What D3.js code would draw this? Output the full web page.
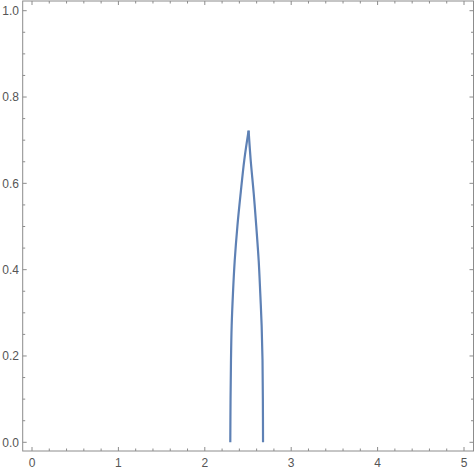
<!DOCTYPE html>
<html>
<head>
<meta charset="utf-8">
<script src="https://cdn.jsdelivr.net/npm/d3@7"></script>
<style>
  html, body { margin: 0; padding: 0; background: #fff; }
  svg { display: block; }
</style>
</head>
<body>
<svg id="chart" width="474" height="470"></svg>
<script>
// ---- data ----
const xTicks = [0, 1, 2, 3, 4, 5];
const xTickLabels = ["0", "1", "2", "3", "4", "5"];
const yTicks = [0, 0.2, 0.4, 0.6, 0.8, 1.0];
const yTickLabels = ["0.0", "0.2", "0.4", "0.6", "0.8", "1.0"];

// left branch (bottom -> peak)
const leftX = [2.295, 2.298, 2.303, 2.311, 2.326, 2.346, 2.377, 2.415, 2.457, 2.507];
const leftY = [0.000, 0.100, 0.190, 0.270, 0.345, 0.420, 0.500, 0.577, 0.654, 0.722];
// right branch (peak -> bottom)
const rightX = [2.507, 2.531, 2.566, 2.596, 2.624, 2.642, 2.658, 2.668, 2.672, 2.674];
const rightY = [0.722, 0.654, 0.577, 0.500, 0.420, 0.345, 0.270, 0.190, 0.100, 0.000];

// ---- layout ----
const svg = d3.select("#chart");
const frame = { left: 22.7, right: 473.5, top: 1, bottom: 451 };
const x = d3.scaleLinear().domain([0, 5]).range([32, 464]);
const y = d3.scaleLinear().domain([0, 1]).range([442.3, 10.7]);

const frameColor = "#8c8c8c";
const textColor = "#555";
const font = "'Liberation Sans', Arial, sans-serif";

// frame
svg.append("rect")
  .attr("x", frame.left).attr("y", frame.top)
  .attr("width", frame.right - frame.left)
  .attr("height", frame.bottom - frame.top)
  .attr("fill", "none").attr("stroke", frameColor).attr("stroke-width", 1);

const major = 4, minor = 2.5;
const xMinor = d3.range(0, 5.0001, 0.2).filter(v => Math.abs(v - Math.round(v)) > 1e-6);
const yMinor = d3.range(0, 1.0001, 0.05).filter(v => Math.abs(v * 5 - Math.round(v * 5)) > 1e-6);

const g = svg.append("g").attr("stroke", frameColor).attr("stroke-width", 1);
// x ticks bottom & top
xTicks.forEach(v => {
  g.append("line").attr("x1", x(v)).attr("x2", x(v)).attr("y1", frame.bottom).attr("y2", frame.bottom - major);
  g.append("line").attr("x1", x(v)).attr("x2", x(v)).attr("y1", frame.top).attr("y2", frame.top + major);
});
xMinor.forEach(v => {
  g.append("line").attr("x1", x(v)).attr("x2", x(v)).attr("y1", frame.bottom).attr("y2", frame.bottom - minor);
  g.append("line").attr("x1", x(v)).attr("x2", x(v)).attr("y1", frame.top).attr("y2", frame.top + minor);
});
// y ticks left & right
yTicks.forEach(v => {
  g.append("line").attr("y1", y(v)).attr("y2", y(v)).attr("x1", frame.left).attr("x2", frame.left + major);
  g.append("line").attr("y1", y(v)).attr("y2", y(v)).attr("x1", frame.right).attr("x2", frame.right - major);
});
yMinor.forEach(v => {
  g.append("line").attr("y1", y(v)).attr("y2", y(v)).attr("x1", frame.left).attr("x2", frame.left + minor);
  g.append("line").attr("y1", y(v)).attr("y2", y(v)).attr("x1", frame.right).attr("x2", frame.right - minor);
});

// tick labels
svg.append("g").selectAll("text").data(xTicks).join("text")
  .attr("x", d => x(d)).attr("y", 466.5)
  .attr("text-anchor", "middle")
  .attr("font-family", font).attr("font-size", 12).attr("fill", textColor)
  .text((d, i) => xTickLabels[i]);

svg.append("g").selectAll("text").data(yTicks).join("text")
  .attr("x", 19).attr("y", d => y(d)).attr("dy", "0.35em")
  .attr("text-anchor", "end")
  .attr("font-family", font).attr("font-size", 12).attr("fill", textColor)
  .text((d, i) => yTickLabels[i]);

// curve
const line = d3.line().x(d => x(d[0])).y(d => y(d[1])).curve(d3.curveCatmullRom.alpha(0.5));
const leftPts = leftX.map((v, i) => [v, leftY[i]]);
const rightPts = rightX.map((v, i) => [v, rightY[i]]);
[leftPts, rightPts].forEach(pts => {
  svg.append("path").datum(pts)
    .attr("d", line)
    .attr("fill", "none")
    .attr("stroke", "#5E81B5")
    .attr("stroke-width", 2.2)
    .attr("stroke-linejoin", "round")
    .attr("stroke-linecap", "butt");
});
</script>
</body>
</html>
